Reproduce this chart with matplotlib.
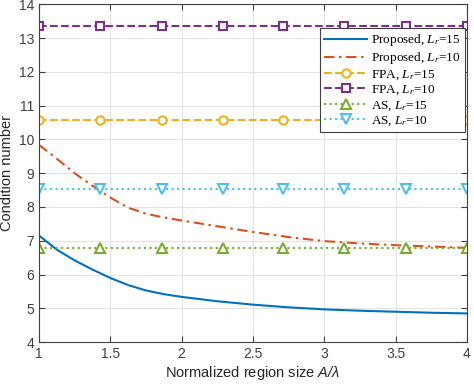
import matplotlib
matplotlib.use('Agg')
import matplotlib.pyplot as plt

# curve samples
region_size = [1, 1.125, 1.25, 1.375, 1.5, 1.625, 1.75, 1.875, 2,
               2.25, 2.5, 2.75, 3, 3.25, 3.5, 3.75, 4]
prop_lr15 = [7.16, 6.74, 6.42, 6.15, 5.90, 5.69, 5.53, 5.42, 5.34,
             5.21, 5.11, 5.03, 4.97, 4.93, 4.90, 4.87, 4.85]
prop_lr10 = [9.84, 9.43, 9.00, 8.63, 8.28, 7.98, 7.80, 7.69, 7.60,
             7.43, 7.26, 7.11, 6.99, 6.92, 6.87, 6.83, 6.79]

# baselines (constant in region size), marker positions
marker_x = [1, 1.43, 1.86, 2.29, 2.71, 3.14, 3.57, 4]
fpa_lr15 = [10.58] * 8
fpa_lr10 = [13.35] * 8
as_lr15 = [6.78] * 8
as_lr10 = [8.53] * 8

plt.rcParams['font.family'] = ['Liberation Sans', 'DejaVu Sans']
plt.rcParams['mathtext.fontset'] = 'custom'
plt.rcParams['mathtext.it'] = 'Liberation Serif:italic'
plt.rcParams['mathtext.rm'] = 'Liberation Serif'
plt.rcParams['mathtext.sf'] = 'Liberation Sans:italic'

fig = plt.figure(figsize=(4.74, 3.84), dpi=100)
ax = fig.add_axes([0.082, 0.109, 0.903, 0.880])

lw = 1.5
ax.plot(region_size, prop_lr15, '-', color='#0072BD', lw=lw, label='Proposed, $L_r$=15')
ax.plot(region_size, prop_lr10, color='#D95319', lw=lw, dashes=(5, 2.2, 1.2, 2.2),
        label='Proposed, $L_r$=10')
ax.plot(marker_x, fpa_lr15, '--', color='#EDB120', lw=lw, marker='o', ms=6,
        mfc='white', mew=1.5, label='FPA, $L_r$=15')
ax.plot(marker_x, fpa_lr10, '--', color='#7E2F8E', lw=lw, marker='s', ms=5.5,
        mfc='white', mew=1.5, label='FPA, $L_r$=10')
ax.plot(marker_x, as_lr15, ':', color='#77AC30', lw=lw, marker='^', ms=6.5,
        mfc='white', mew=1.5, label='AS, $L_r$=15')
ax.plot(marker_x, as_lr10, ':', color='#4DBEEE', lw=lw, marker='v', ms=6.5,
        mfc='white', mew=1.5, label='AS, $L_r$=10')

ax.set_xlim(1, 4)
ax.set_ylim(4, 14)
ax.set_xticks([1, 1.5, 2, 2.5, 3, 3.5, 4])
ax.set_xticklabels(['1', '1.5', '2', '2.5', '3', '3.5', '4'])
ax.set_yticks(range(4, 15))
ax.grid(True, color='#e3e3e3', lw=0.8)
ax.set_axisbelow(True)
ax.tick_params(direction='in', top=True, right=True, labelsize=10,
               colors='#404040', length=4)
for s in ax.spines.values():
    s.set_color('#404040')
    s.set_linewidth(0.8)

ax.set_xlabel('Normalized region size $\\mathsf{A/\\lambda}$', fontsize=10.5,
              color='#262626', labelpad=2)
ax.set_ylabel('Condition number', fontsize=10.5, color='#262626', labelpad=3)

leg = ax.legend(loc='upper right', bbox_to_anchor=(0.995, 0.929), fancybox=False,
                framealpha=1, edgecolor='#404040', borderpad=0.3, labelspacing=0.15,
                handlelength=3.3, handletextpad=0.3, borderaxespad=0,
                prop={'family': 'Liberation Serif', 'size': 9.5})
leg.get_frame().set_linewidth(0.8)

fig.savefig('out.png', dpi=100)
